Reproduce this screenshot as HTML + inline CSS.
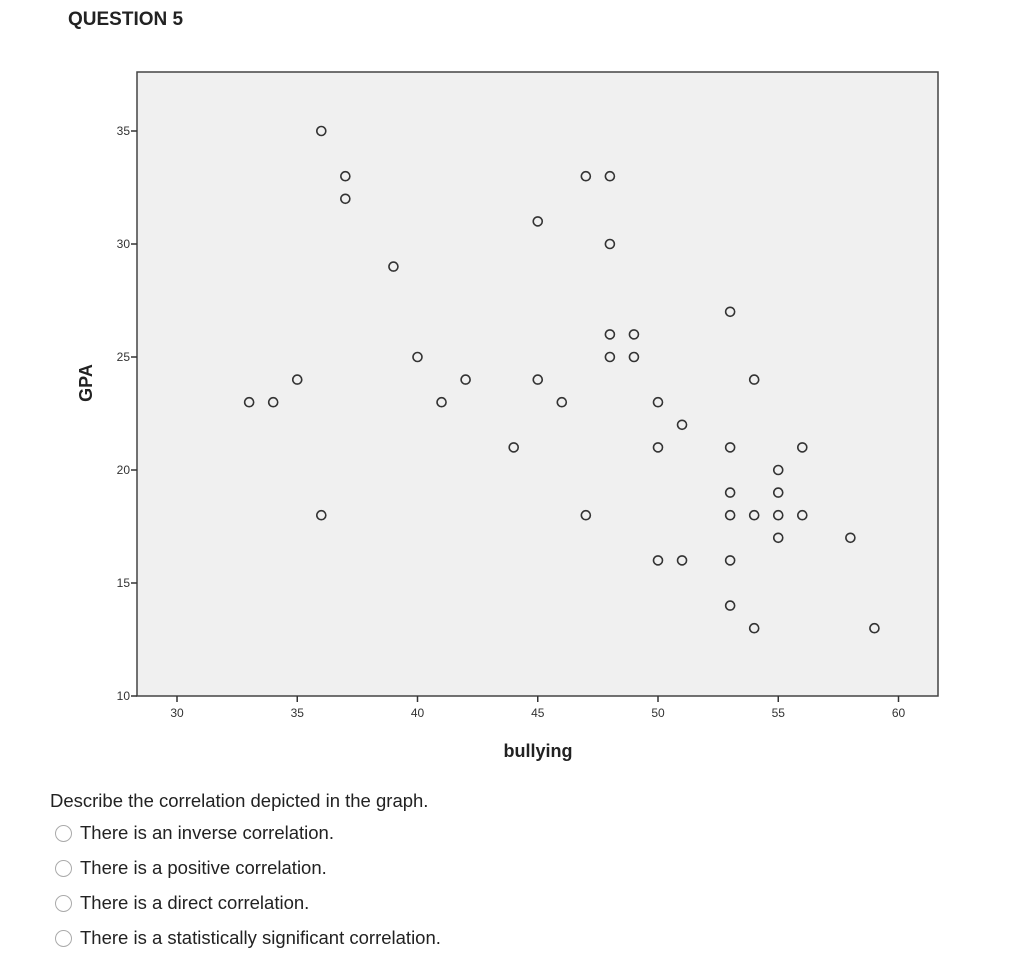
<!DOCTYPE html>
<html><head><meta charset="utf-8"><style>
body{margin:0;width:1024px;height:958px;background:#fff;font-family:"Liberation Sans",sans-serif;position:relative;overflow:hidden}
.q{position:absolute;left:68px;top:9px;font-size:19px;font-weight:bold;color:#222}
.prompt{position:absolute;left:50px;top:790px;font-size:18.5px;color:#222}
.opt{position:absolute;left:55px;font-size:18.5px;color:#222;display:flex;align-items:center}
.opt span.r{width:17px;height:17px;border:1px solid #aaa;border-radius:50%;margin-right:8px;box-sizing:border-box}
</style></head><body>
<div class="q">QUESTION 5</div>
<svg id="chart" width="1024" height="780" style="position:absolute;left:0;top:0"></svg>
<div class="prompt">Describe the correlation depicted in the graph.</div>
<div class="opt" style="top:822px"><span class="r"></span>There is an inverse correlation.</div>
<div class="opt" style="top:857px"><span class="r"></span>There is a positive correlation.</div>
<div class="opt" style="top:892px"><span class="r"></span>There is a direct correlation.</div>
<div class="opt" style="top:927px"><span class="r"></span>There is a statistically significant correlation.</div>
<script>
const xTicks=[30,35,40,45,50,55,60];
const yTicks=[10,15,20,25,30,35];
const bullying=[33,34,35,36,36,37,37,39,40,41,42,44,45,45,46,47,47,48,48,48,48,49,49,50,50,50,51,51,53,53,53,53,53,53,54,54,54,55,55,55,55,56,56,58,59];
const gpa=[23,23,24,35,18,33,32,29,25,23,24,21,31,24,23,33,18,33,30,26,25,26,25,23,21,16,22,16,27,21,19,18,16,14,24,18,13,20,19,18,17,21,18,17,13];
const ns="http://www.w3.org/2000/svg";
const svg=document.getElementById('chart');
const L=137,R=938,T=72,B=696;
const sx=v=>177+(v-30)*24.05;
const sy=v=>B-(v-10)*22.6;
function mk(t,a){const e=document.createElementNS(ns,t);for(const k in a)e.setAttribute(k,a[k]);svg.appendChild(e);return e;}
const bg=mk('rect',{x:L,y:T,width:R-L,height:B-T,fill:'#f0f0f0',stroke:'#444','stroke-width':1.5});


xTicks.forEach(v=>{
  const l=mk('line',{x1:sx(v),x2:sx(v),y1:B,y2:B+6,stroke:'#333','stroke-width':1.5});
  
  
  const t=mk('text',{x:sx(v),y:B+21,'font-size':12,'text-anchor':'middle',fill:'#333'});
  t.textContent=v;
  
  
});
yTicks.forEach(v=>{
  const l=mk('line',{x1:L-6,x2:L,y1:sy(v),y2:sy(v),stroke:'#333','stroke-width':1.5});
  
  
  const t=mk('text',{x:L-7,y:sy(v)+4,'font-size':12,'text-anchor':'end',fill:'#333'});
  t.textContent=v;
  
  
});
bullying.forEach((b,i)=>{
  const c=mk('circle',{cx:sx(b),cy:sy(gpa[i]),r:4.5,fill:'none',stroke:'#333','stroke-width':1.6});
  
  
});
const xt=mk('text',{x:538,y:757,'font-size':18,'font-weight':'bold','text-anchor':'middle',fill:'#222'});
xt.textContent='bullying';


const yt=mk('text',{x:0,y:0,'font-size':18,'font-weight':'bold','text-anchor':'middle',fill:'#222',transform:'translate(92,383) rotate(-90)'});
yt.textContent='GPA';


</script>
</body></html>
